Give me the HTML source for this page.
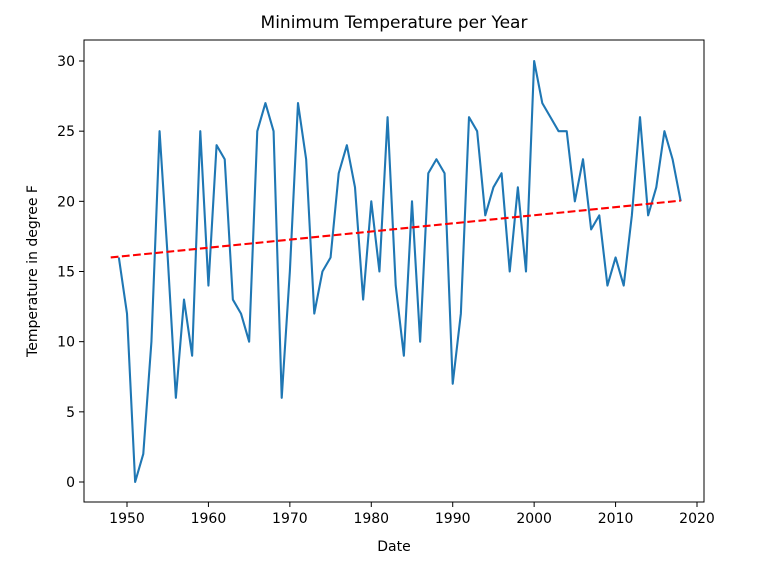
<!DOCTYPE html>
<html><head><meta charset="utf-8"><style>
body{margin:0;background:#fff;}
svg text{font-family:"DejaVu Sans","Liberation Sans",sans-serif;fill:#000;}
</style></head><body>
<svg id="chart" width="777" height="564" xmlns="http://www.w3.org/2000/svg"></svg>
<script>
const years = [1949,1950,1951,1952,1953,1954,1955,1956,1957,1958,1959,1960,1961,1962,1963,1964,1965,1966,1967,1968,1969,1970,1971,1972,1973,1974,1975,1976,1977,1978,1979,1980,1981,1982,1983,1984,1985,1986,1987,1988,1989,1990,1991,1992,1993,1994,1995,1996,1997,1998,1999,2000,2001,2002,2003,2004,2005,2006,2007,2008,2009,2010,2011,2012,2013,2014,2015,2016,2017,2018];
const temps = [16,12,0,2,10,25,16,6,13,9,25,14,24,23,13,12,10,25,27,25,6,15,27,23,12,15,16,22,24,21,13,20,15,26,14,9,20,10,22,23,22,7,12,26,25,19,21,22,15,21,15,30,27,26,25,25,20,23,18,19,14,16,14,19,26,19,21,25,23,20];
const trendYears = [1948,2018];
const trendVals = [16.0,20.05];
const xTicks = [1950,1960,1970,1980,1990,2000,2010,2020];
const yTicks = [0,5,10,15,20,25,30];

const svg = document.getElementById('chart');
const NS = 'http://www.w3.org/2000/svg';
const L=84,R=704,T=40,B=502;
const xS = v => 127 + (v-1950)*(697-127)/70;
const yS = v => 482 - v*(482-61)/30;
function mk(tag, attrs){const e=document.createElementNS(NS,tag);for(const k in attrs)e.setAttribute(k,attrs[k]);svg.appendChild(e);return e;}

const title = mk('text',{x:(L+R)/2,y:28,'text-anchor':'middle','font-size':'17'});
title.textContent='Minimum Temperature per Year';



xTicks.forEach(t=>{
  const x=xS(t);
  const tk=mk('line',{x1:x,x2:x,y1:B,y2:B+5,stroke:'#000','stroke-width':1});
  
  
  const lb=mk('text',{x:x,y:B+21,'text-anchor':'middle','font-size':'14'});
  lb.textContent=t;
  
  
});
yTicks.forEach(t=>{
  const y=yS(t);
  const tk=mk('line',{x1:L-5,x2:L,y1:y,y2:y,stroke:'#000','stroke-width':1});
  
  
  const lb=mk('text',{x:L-9,y:y+5,'text-anchor':'end','font-size':'14'});
  lb.textContent=t;
  
  
});

const line=mk('polyline',{points:years.map((yr,i)=>xS(yr)+','+yS(temps[i])).join(' '),fill:'none',stroke:'#1f77b4','stroke-width':2.1,'stroke-linejoin':'round'});



const trend=mk('polyline',{points:trendYears.map((yr,i)=>xS(yr)+','+yS(trendVals[i])).join(' '),fill:'none',stroke:'#ff0000','stroke-width':2.1,'stroke-dasharray':'7.8,3.4'});



const frame=mk('rect',{x:L,y:T,width:R-L,height:B-T,fill:'none',stroke:'#000','stroke-width':1});



const xl=mk('text',{x:(L+R)/2,y:551,'text-anchor':'middle','font-size':'14'});
xl.textContent='Date';


const yl=mk('text',{x:0,y:0,'text-anchor':'middle','font-size':'14',transform:'translate(37,'+((T+B)/2)+') rotate(-90)'});
yl.textContent='Temperature in degree F';


</script>
</body></html>
